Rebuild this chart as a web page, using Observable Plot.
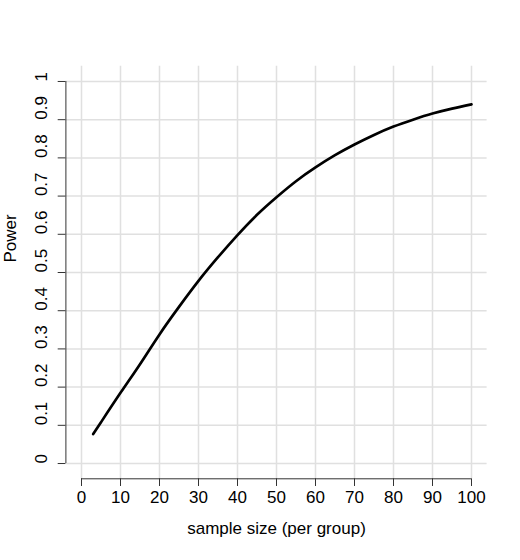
<!DOCTYPE html>
<html><head><meta charset="utf-8">
<script src="https://cdn.jsdelivr.net/npm/d3@7"></script>
<script src="https://cdn.jsdelivr.net/npm/@observablehq/plot@0.6"></script>
<style>body{margin:0;background:#fff} svg{display:block}</style>
</head><body><div id="chart"></div>
<script>
// Data
const sampleSize = [3, 5, 10, 15, 20, 25, 30, 35, 40, 45, 50, 55, 60, 65, 70, 75, 80, 85, 90, 95, 100];
const power = [0.077, 0.108, 0.185, 0.26, 0.338, 0.41, 0.478, 0.54, 0.598, 0.651, 0.697, 0.739, 0.775, 0.807, 0.835, 0.86, 0.882, 0.90, 0.916, 0.929, 0.940];
const xTicks = [0, 10, 20, 30, 40, 50, 60, 70, 80, 90, 100];
const xTickLabels = ["0", "10", "20", "30", "40", "50", "60", "70", "80", "90", "100"];
const yTicks = [0, 0.1, 0.2, 0.3, 0.4, 0.5, 0.6, 0.7, 0.8, 0.9, 1];
const yTickLabels = ["0", "0.1", "0.2", "0.3", "0.4", "0.5", "0.6", "0.7", "0.8", "0.9", "1"];
const xDomain = [-4, 104];
const yDomain = [-0.04, 1.04];
const xLabel = "sample size (per group)";
const yLabel = "Power";

const data = sampleSize.map((n, i) => ({n, p: power[i]}));

const chart = Plot.plot({
  width: 520, height: 560,
  marginLeft: 65.4, marginRight: 33.4, marginTop: 65.7, marginBottom: 81.7,
  x: {domain: xDomain},
  y: {domain: yDomain},
  style: {fontFamily: "'Liberation Sans', Arial, sans-serif", fontSize: "17px", background: "#fff", color: "#000", overflow: "visible"},
  marks: [
    Plot.ruleX(xTicks, {stroke: "#e0e0e0", strokeWidth: 1.5}),
    Plot.ruleY(yTicks, {stroke: "#e0e0e0", strokeWidth: 1.5}),
    Plot.ruleX([xDomain[0]], {y1: yTicks[0], y2: yTicks[yTicks.length - 1], stroke: "#333", strokeWidth: 1}),
    Plot.ruleY([yDomain[0]], {x1: xTicks[0], x2: xTicks[xTicks.length - 1], stroke: "#333", strokeWidth: 1}),
    Plot.axisX({ticks: xTicks, tickSize: 7.7, tickFormat: () => "", label: null, stroke: "#333"}),
    Plot.axisY({ticks: yTicks, tickSize: 7.7, tickFormat: () => "", label: null, stroke: "#333"}),
    Plot.text(xTicks, {x: d => d, frameAnchor: "bottom", dy: 24.3, text: (d, i) => xTickLabels[i], fill: "#000", fontSize: 17}),
    Plot.text(yTicks, {y: d => d, frameAnchor: "left", dx: -24.1, rotate: -90, text: (d, i) => yTickLabels[i], fill: "#000", fontSize: 17}),
    Plot.text([xLabel], {frameAnchor: "bottom", dy: 55.3, text: d => d, fill: "#000", fontSize: 17}),
    Plot.text([yLabel], {frameAnchor: "left", dx: -55.1, dy: -10, rotate: -90, text: d => d, fill: "#000", fontSize: 17}),
    Plot.line(data, {x: "n", y: "p", stroke: "#000", strokeWidth: 2.67, curve: "natural"})
  ]
});
document.getElementById("chart").appendChild(chart);
</script>
</body></html>
